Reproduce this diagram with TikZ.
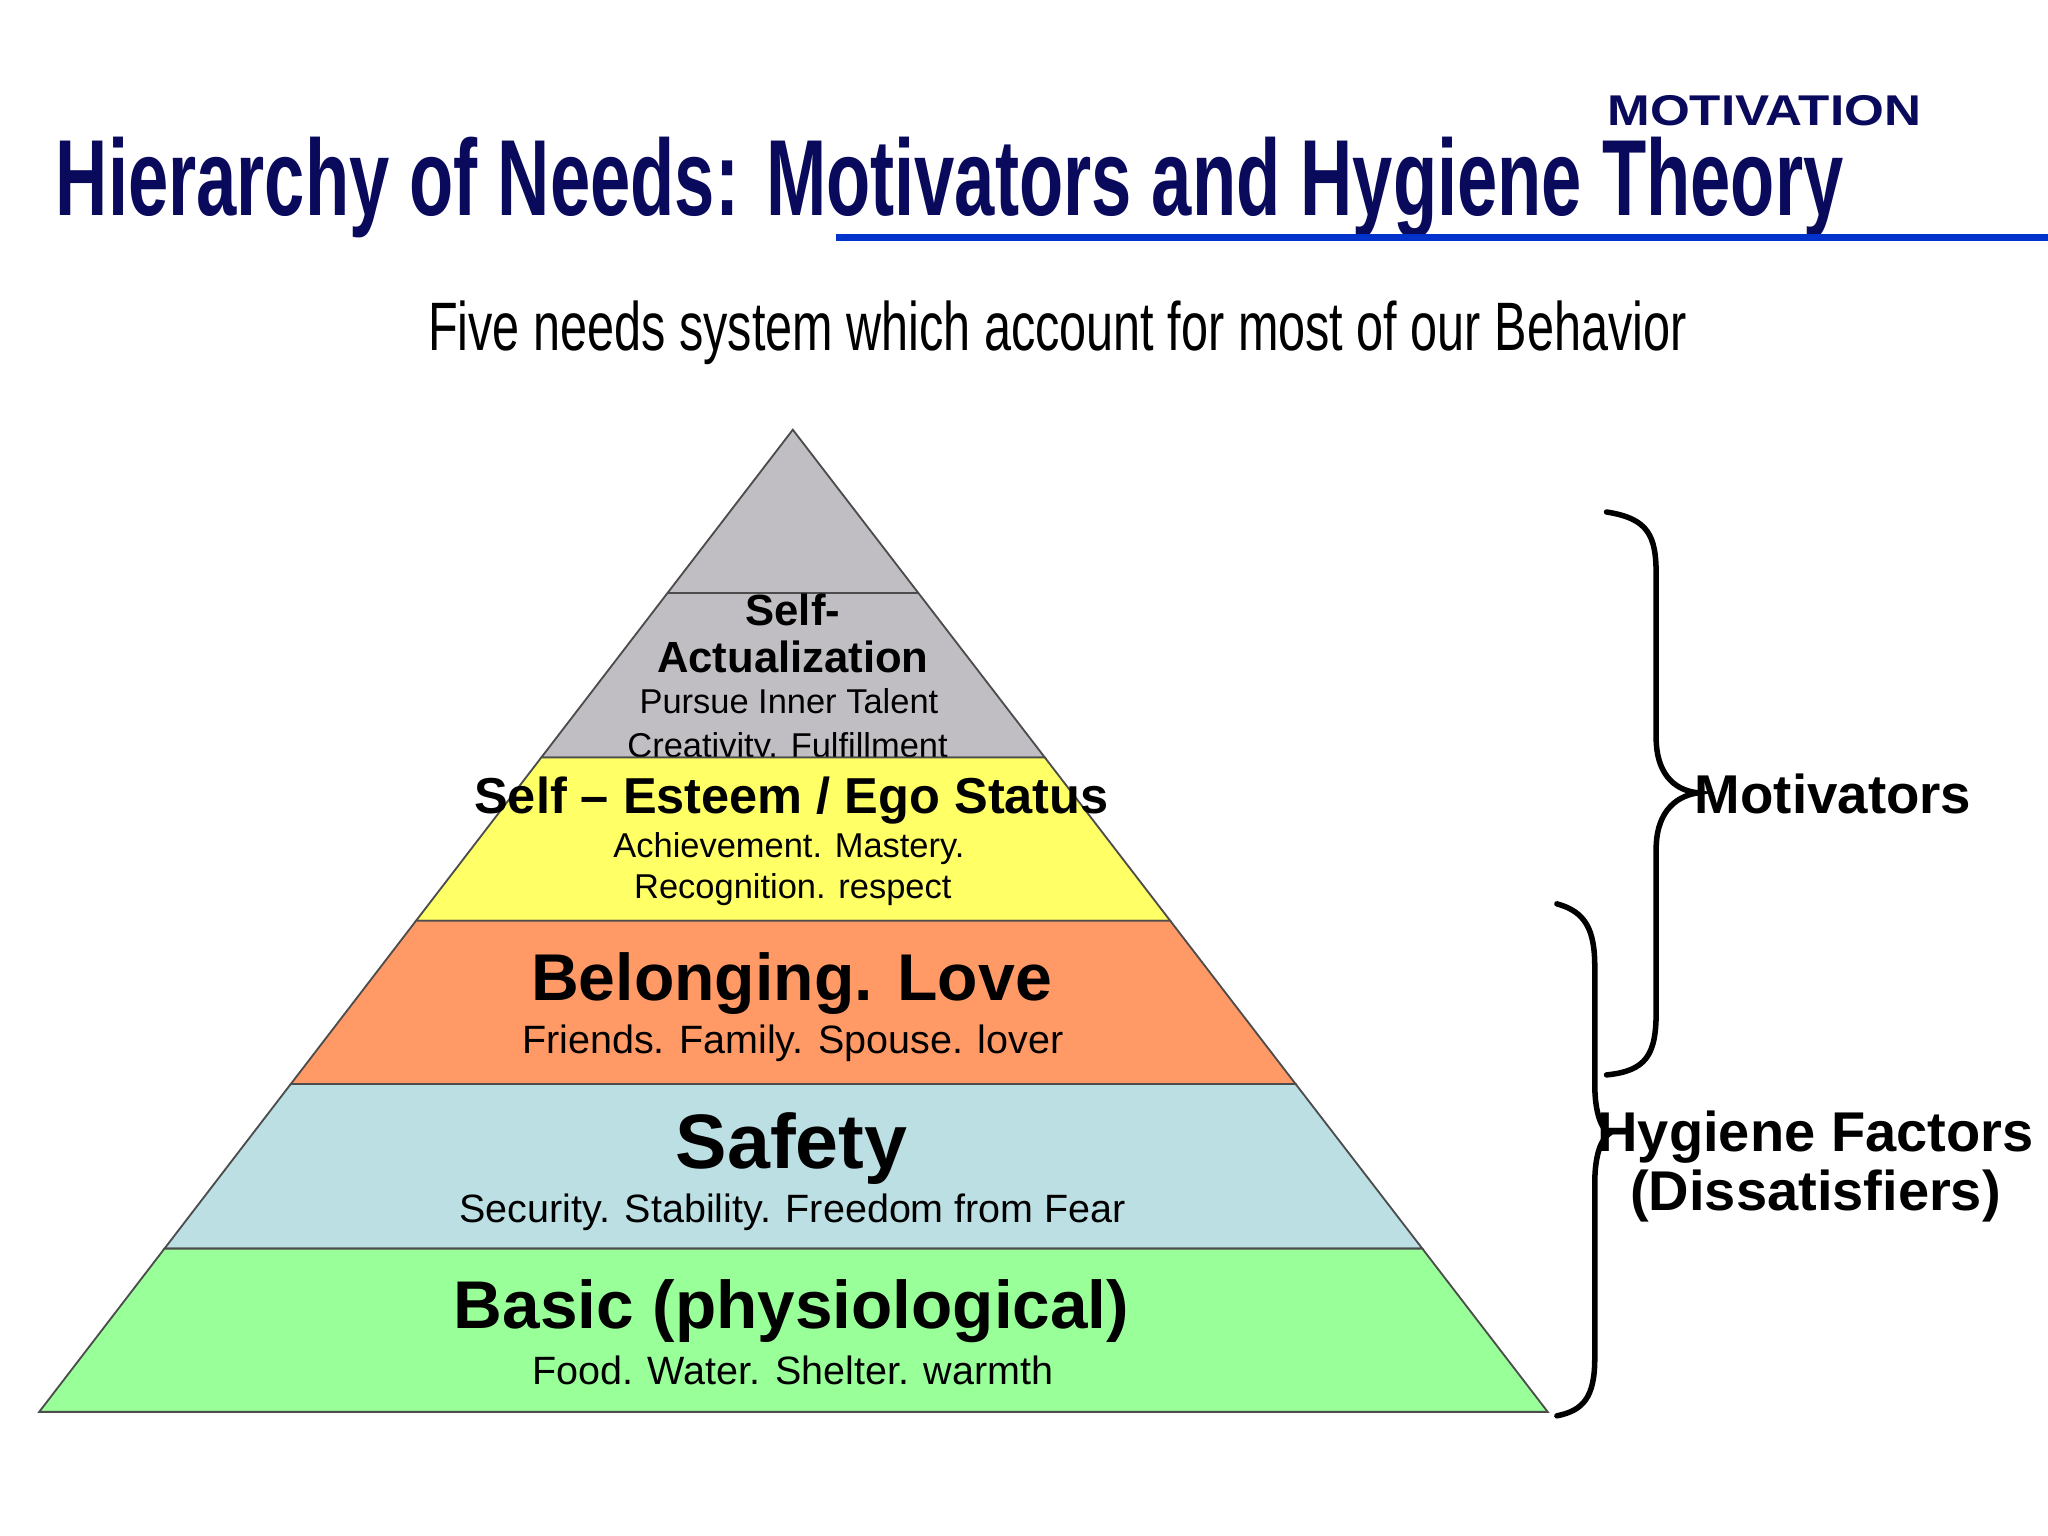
\documentclass[tikz,border=0pt]{standalone}
\usepackage{fontspec}
\setmainfont{Liberation Sans}
\begin{document}
\begin{tikzpicture}[x=0.01cm,y=-0.01cm,
  layer/.style={draw=black!70,line width=0.4pt},
  sub/.style={font=\fontsize{7.5}{9}\selectfont},
  subl/.style={font=\fontsize{8.6}{10}\selectfont},
  brace/.style={line width=1.2pt,line cap=round}]
\useasboundingbox (0,0) rectangle (1568,1176);
\definecolor{navy}{HTML}{0A0A5C}
\definecolor{lineblue}{HTML}{0033CC}
% title
\node[anchor=base west,inner sep=0,text=navy] (title) at (42,165) {\resizebox{13.68cm}{0.6cm}{\bfseries Hierarchy of Needs: Motivators and Hygiene Theory}};
\node[anchor=base west,inner sep=0,text=navy] (mot) at (1230,96) {\resizebox{2.4cm}{0.23cm}{\bfseries MOTIVATION}};
\fill[lineblue] (640,179.5) rectangle (1568,184.5);
\node[anchor=base west,inner sep=0] (subt) at (327,268) {\resizebox{9.63cm}{0.38cm}{Five needs system which account for most of our Behavior}};
% pyramid
\filldraw[layer,fill={rgb,255:red,192;green,190;blue,194}] (607,329) -- (800,580) -- (414.4,580) -- cycle;
\draw[layer] (511,454) -- (703,454);
\node[font=\bfseries\fontsize{9.5}{11}\selectfont] (sa1) at (607,467) {Self-};
\node[font=\bfseries\fontsize{9.5}{11}\selectfont] (sa2) at (607,503) {Actualization};
\node[sub] (sa3) at (604,537) {Pursue Inner Talent};
\node[sub] (sa4) at (603,573) {Creativity. Fulfillment};
\filldraw[layer,fill={rgb,255:red,255;green,255;blue,102}] (414.4,580) -- (800,580) -- (896,705) -- (318.5,705) -- cycle;
\filldraw[layer,fill={rgb,255:red,255;green,153;blue,102}] (318.5,705) -- (896,705) -- (992,830) -- (222.6,830) -- cycle;
\filldraw[layer,fill={rgb,255:red,187;green,223;blue,227}] (222.6,830) -- (992,830) -- (1089,956) -- (125.9,956) -- cycle;
\filldraw[layer,fill={rgb,255:red,153;green,255;blue,153}] (125.9,956) -- (1089,956) -- (1185,1081) -- (30,1081) -- cycle;
\node[font=\bfseries\fontsize{11}{13}\selectfont] (es1) at (606,613) {Self -- Esteem / Ego Status};
\node[sub] (es2) at (604,650) {Achievement. Mastery.};
\node[sub] (es3) at (607,681) {Recognition. respect};
\node[font=\bfseries\fontsize{14.4}{16}\selectfont] (bl1) at (606,753) {Belonging. Love};
\node[subl] (bl2) at (607,799) {Friends. Family. Spouse. lover};
\node[font=\bfseries\fontsize{16.8}{19}\selectfont] (sf1) at (606,879) {Safety};
\node[subl] (sf2) at (607,928) {Security. Stability. Freedom from Fear};
\node[font=\bfseries\fontsize{14.7}{17}\selectfont] (bs1) at (606,1004) {Basic (physiological)};
\node[subl] (bs2) at (607,1049) {Food. Water. Shelter. warmth};
% braces
\coordinate (mt) at (1230,392);
\coordinate (mb) at (1230,823);
\coordinate (mtip) at (1300,607);
\draw[brace] (mt) .. controls (1262,397) and (1268,410) .. (1268,440) -- (1268,565) .. controls (1268,590) and (1280,605) .. (mtip) .. controls (1280,610) and (1268,625) .. (1268,650) -- (1268,775) .. controls (1268,808) and (1260,820) .. (mb);
\coordinate (ht) at (1192,692);
\coordinate (hb) at (1192,1084);
\coordinate (htip) at (1232,868);
\draw[brace] (ht) .. controls (1214,698) and (1221,712) .. (1221,740) -- (1221,830) .. controls (1221,852) and (1226,864) .. (htip) .. controls (1226,872) and (1221,884) .. (1221,906) -- (1221,1040) .. controls (1221,1070) and (1212,1080) .. (hb);
\node[anchor=west,inner sep=0,font=\bfseries\fontsize{11.9}{14}\selectfont] (motl) at (1297,608) {Motivators};
\node[inner sep=0,font=\bfseries\fontsize{12.2}{14}\selectfont] (hyg1) at (1390,871) {Hygiene Factors};
\node[inner sep=0,font=\bfseries\fontsize{12.2}{14}\selectfont] (hyg2) at (1390,916) {(Dissatisfiers)};
\end{tikzpicture}
\end{document}
